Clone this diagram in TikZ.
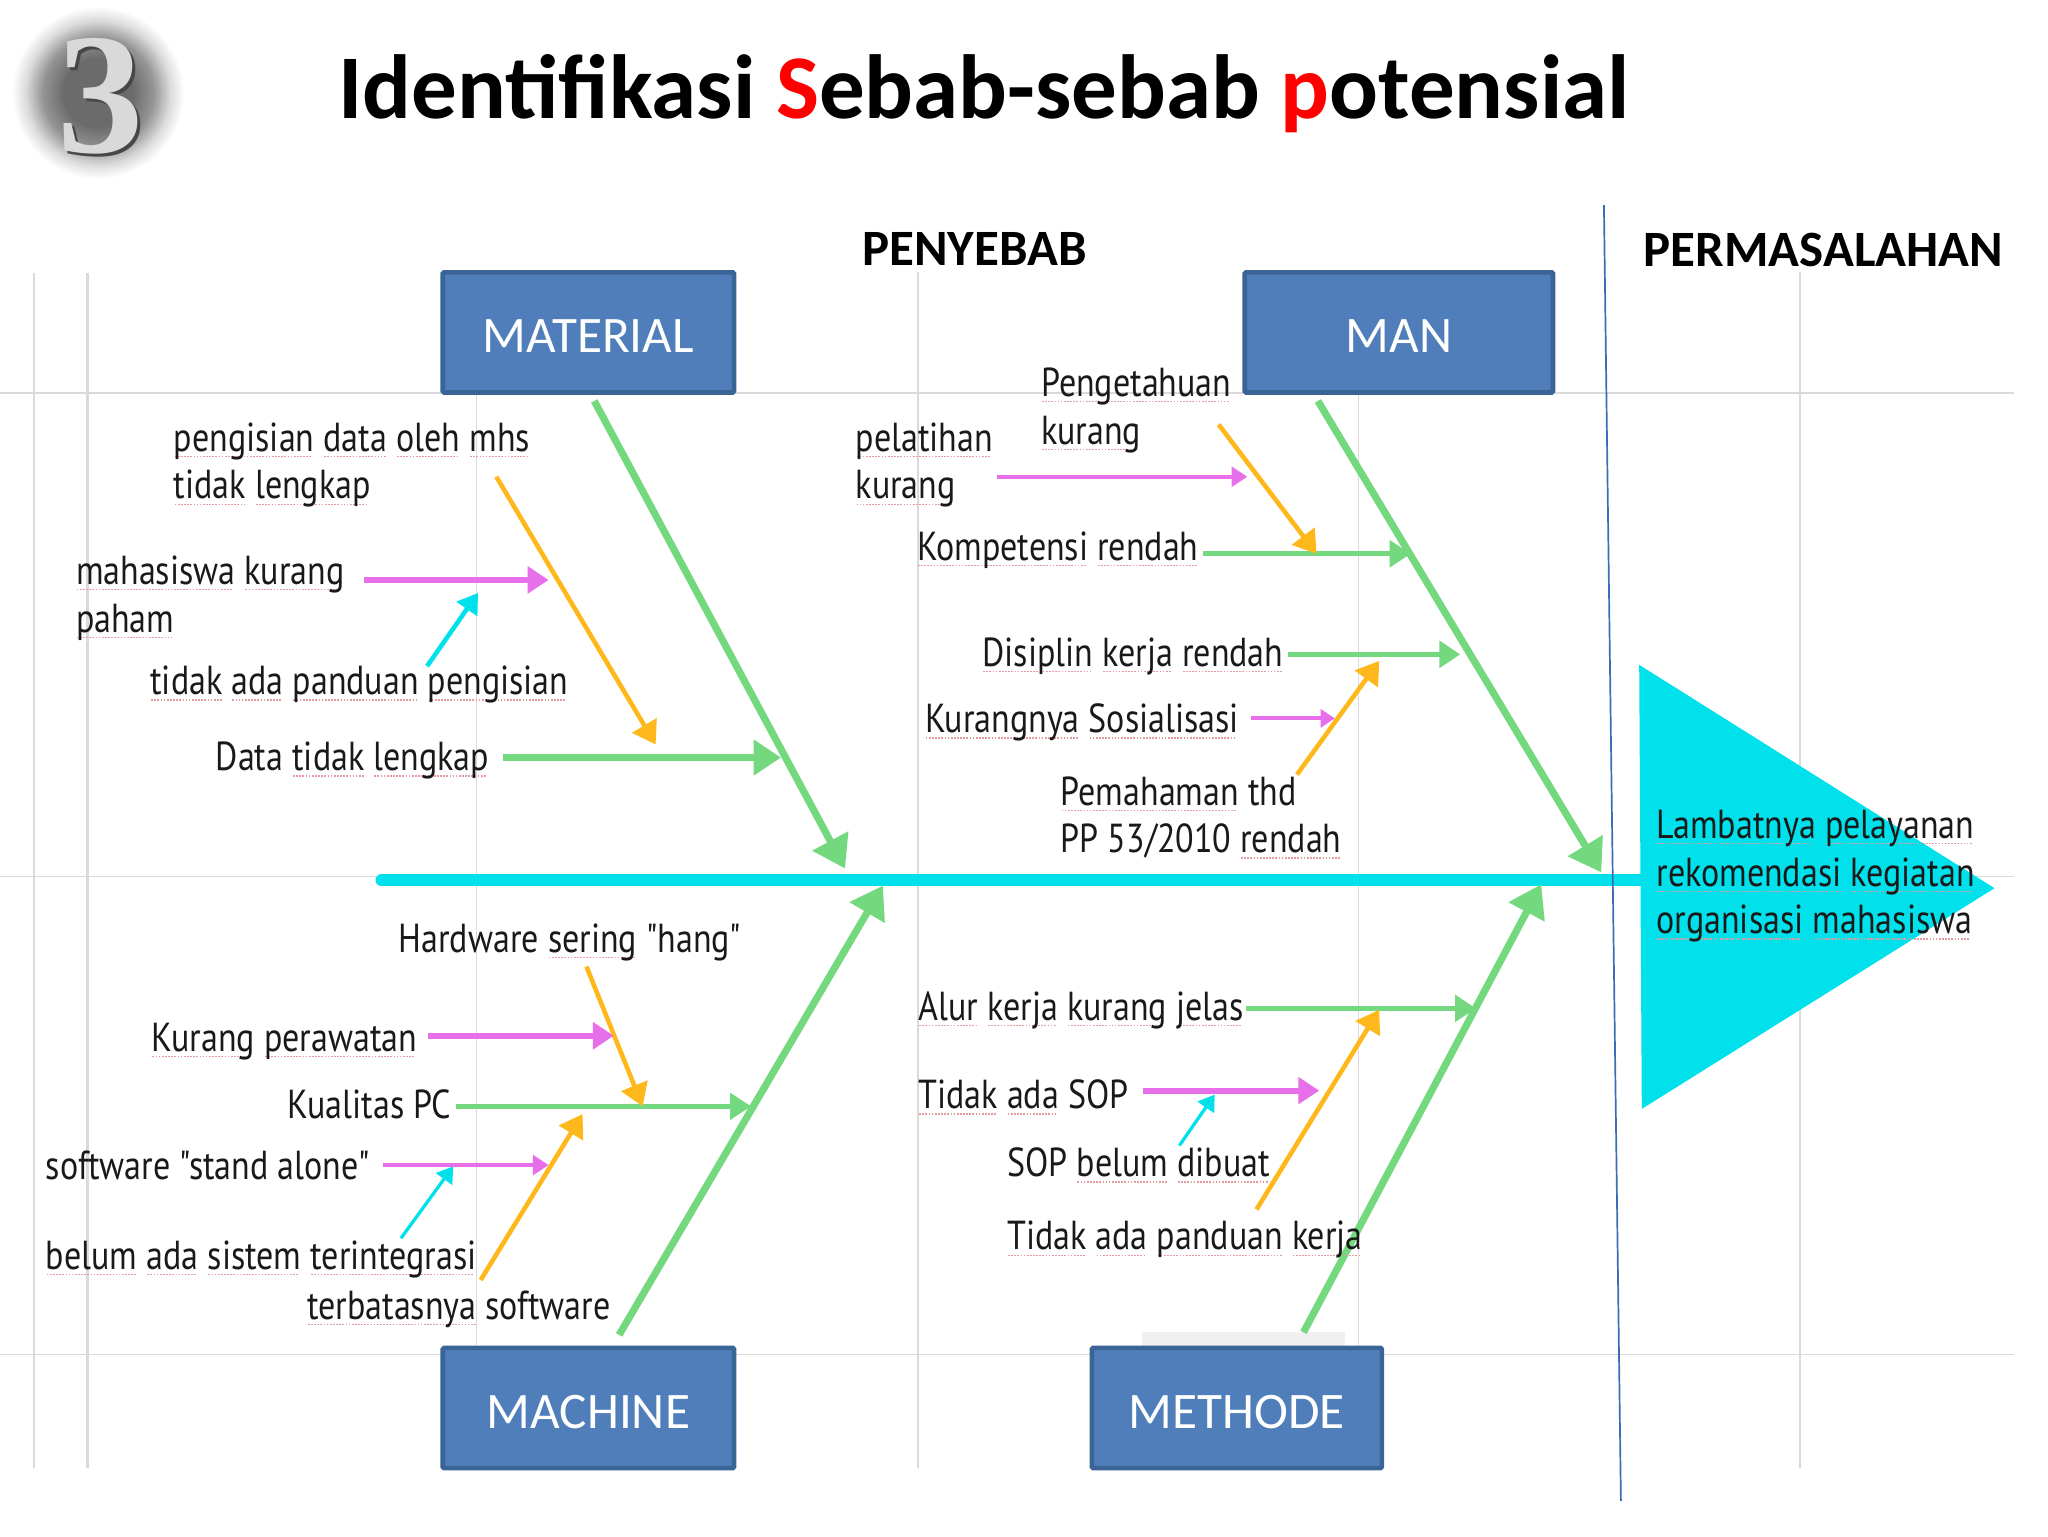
\documentclass[tikz,border=0pt]{standalone}
\usepackage{fontspec}
\usetikzlibrary{arrows.meta,shadings}
\setmainfont{Carlito}
\newfontfamily\labfont[FakeStretch=0.84]{PT Sans}
\definecolor{boxblue}{HTML}{4F7EBA}
\definecolor{boxedge}{HTML}{3A6496}
\definecolor{fishcyan}{HTML}{00E1EB}
\definecolor{bonegreen}{HTML}{74D97E}
\definecolor{boneorange}{HTML}{FFB81C}
\definecolor{bonemagenta}{HTML}{E76FEA}
\definecolor{gridgrey}{HTML}{DADADA}
\definecolor{sepblue}{HTML}{3A6DB5}
\definecolor{squig}{HTML}{E59AA0}
\pgfdeclareradialshading{logoblob}{\pgfpoint{0bp}{0bp}}{color(0bp)=(black!58); color(10bp)=(black!58); color(16bp)=(black!42); color(21bp)=(black!14); color(25bp)=(white)}
\newsavebox\sqbox
\newcommand\sq[1]{\sbox\sqbox{#1}\rlap{\raisebox{-4.5pt}{\color{squig}\hbox to \wd\sqbox{\leaders\hbox to 2.4pt{\hss\rule{1.3pt}{1pt}\hss}\hfill}}}#1}
\newcommand\boxtext[1]{\raisebox{-15.5pt}[0pt][0pt]{#1}}
\tikzset{
  catbox/.style={draw=boxedge,line width=3.5pt,fill=boxblue,text=white,font=\fontsize{39.2}{44}\selectfont,rounded corners=1pt,inner sep=0pt},
  lab/.style={anchor=base west,inner sep=0pt,align=left,yshift=-1pt,font=\labfont\fontsize{31}{36.5}\selectfont,text=black!90},
  head/.style={font=\bfseries\fontsize{39}{44}\selectfont,inner sep=0pt},
  gridline/.style={draw=gridgrey,line width=1.3pt},
  bone/.style n args={3}{draw=#1,fill=#1,line width=#2pt,-{Triangle[length=#3pt,width=#3pt*1.25]},shorten >=0pt},
}
\begin{document}
\begin{tikzpicture}[x=1pt,y=-1pt]
\useasboundingbox (0,0) rectangle (1568,1176);
% background grid
\foreach \gx/\ga/\gb/\gw in {26/209/1124/1.2,67/209/1124/2,365/302/1030/1,703/208/1124/1.2,1040/302/1124/1.2,1378/208/1124/1.2}
  \draw[gridline,line width=\gw pt] (\gx,\ga) -- (\gx,\gb);
\foreach \gy in {301,671,1037}
  \draw[gridline] (0,\gy) -- (1542,\gy);
\fill[black!6] (874,1020) rectangle (1030,1033);
% logo
\shade[shading=logoblob] (75,71) circle (66);
\node (logoshadow) at (79,76) {\fontspec{Liberation Serif}\bfseries\fontsize{132}{132}\selectfont\color{black!72}3};
\node (logo) at (77,74) {\fontspec{Liberation Serif}\bfseries\fontsize{132}{132}\selectfont\color{black!15}3};
% title
\node[inner sep=0pt,anchor=base west,font=\bfseries\fontsize{69.7}{74}\selectfont] (title) at (259,91) {Identifikasi \textcolor{red}{S}ebab-sebab \textcolor{red}{p}otensial};
\node[head] (penyebab) at (746,191) {PENYEBAB};
\node[head] (permasalahan) at (1396,191) {PERMASALAHAN};
% category boxes
\node[catbox,minimum width=223pt,minimum height=92pt] (material) at (450.5,254.5) {\boxtext{MATERIAL}};
\node[catbox,minimum width=236pt,minimum height=92pt] (man) at (1071,254.5) {\boxtext{MAN}};
\node[catbox,minimum width=223pt,minimum height=92pt] (machine) at (450.5,1078) {\boxtext{MACHINE}};
\node[catbox,minimum width=222pt,minimum height=92pt] (methode) at (947,1078) {\boxtext{METHODE}};
% spine and head
\coordinate (spineA) at (292,674);
\coordinate (spineB) at (1260,674);
\draw[fishcyan,line width=9pt,line cap=round] (spineA) -- (spineB);
\coordinate (t1) at (1255,509);
\coordinate (t2) at (1527,680);
\coordinate (t3) at (1257,849);
\fill[fishcyan] (t1) -- (t2) -- (t3) -- cycle;
% free ends
\foreach \n/\px/\py in {
 a1/455/307,a2/647/665,b1/1009/307,b2/1226/668,c1/474/1022,c2/676/678,d1/998/1020,d2/1180/677,
 e1/385/580,e2/598/580,f1/921/424,f2/1080/424,g1/986/501,g2/1118/501,h1/349/847,h2/575/847,i1/954/772,i2/1130/772,
 j1/380/365,j2/502/570,k1/933/325,k2/1008/424,l1/993/593,l2/1056/506,m1/449/740,m2/492/847,n1/368/980,n2/446/853,o1/962/926,o2/1056/773,
 p1/279/444,p2/420/444,q1/763/365,q2/955/365,r1/958/550,r2/1022/550,s1/328/793,s2/470/793,t4/293/892,t5/420/892,u1/875/835,u2/1010/835,
 v1/327/510,v2/366/454,w1/307/948,w2/347/893,y1/903/877,y2/930/838}
  \coordinate (\n) at (\px,\py);
% main bones
\draw[bone={bonegreen}{5.5}{24}] (a1) -- (a2);
\draw[bone={bonegreen}{5.5}{24}] (b1) -- (b2);
\draw[bone={bonegreen}{5.5}{24}] (c1) -- (c2);
\draw[bone={bonegreen}{5.5}{24}] (d1) -- (d2);
% green
\draw[bone={bonegreen}{5.5}{21}] (e1) -- (e2);
\draw[bone={bonegreen}{4}{16}] (f1) -- (f2);
\draw[bone={bonegreen}{4}{16}] (g1) -- (g2);
\draw[bone={bonegreen}{3.5}{16}] (h1) -- (h2);
\draw[bone={bonegreen}{4}{16}] (i1) -- (i2);
% orange
\draw[bone={boneorange}{3.5}{17}] (j1) -- (j2);
\draw[bone={boneorange}{3.5}{17}] (k1) -- (k2);
\draw[bone={boneorange}{3.5}{17}] (l1) -- (l2);
\draw[bone={boneorange}{3.5}{17}] (m1) -- (m2);
\draw[bone={boneorange}{3.5}{17}] (n1) -- (n2);
\draw[bone={boneorange}{3.5}{17}] (o1) -- (o2);
% magenta
\draw[bone={bonemagenta}{4.5}{16}] (p1) -- (p2);
\draw[bone={bonemagenta}{3}{12}] (q1) -- (q2);
\draw[bone={bonemagenta}{3}{11}] (r1) -- (r2);
\draw[bone={bonemagenta}{4.5}{16}] (s1) -- (s2);
\draw[bone={bonemagenta}{3}{12}] (t4) -- (t5);
\draw[bone={bonemagenta}{4.5}{16}] (u1) -- (u2);
% cyan
\draw[bone={fishcyan}{3.5}{15}] (v1) -- (v2);
\draw[bone={fishcyan}{2.5}{12}] (w1) -- (w2);
\draw[bone={fishcyan}{2.5}{12}] (y1) -- (y2);
% separator
\coordinate (sep1) at (1228,157);
\coordinate (sep2) at (1241,1149);
\draw[sepblue,line width=1.3pt] (sep1) -- (sep2);
% labels
\node[lab] (l01) at (133,381) {\sq{pengisian} \sq{data} \sq{oleh} \sq{mhs}\\\sq{tidak} \sq{lengkap}};
\node[lab] (l02) at (58,483) {\sq{mahasiswa} \sq{kurang}\\\sq{paham}};
\node[lab] (l03) at (115,531) {\sq{tidak} \sq{ada} \sq{panduan} \sq{pengisian}};
\node[lab] (l04) at (165,589) {Data \sq{tidak} \sq{lengkap}};
\node[lab] (l05) at (655,381) {\sq{pelatihan}\\\sq{kurang}};
\node[lab] (l06) at (797,339) {\sq{Pengetahuan}\\\sq{kurang}};
\node[lab] (l07) at (702,428) {\sq{Kompetensi} \sq{rendah}};
\node[lab] (l08) at (752,509) {\sq{Disiplin} \sq{kerja} \sq{rendah}};
\node[lab] (l09) at (708,560) {\sq{Kurangnya} \sq{Sosialisasi}};
\node[lab] (l10) at (812,652) {\sq{Pemahaman} thd\\PP 53/2010 \sq{rendah}};
\node[lab] (l11) at (1268,714) {\sq{Lambatnya} \sq{pelayanan}\\\sq{rekomendasi} \sq{kegiatan}\\\sq{organisasi} \sq{mahasiswa}};
\node[lab] (l12) at (305,728) {Hardware \sq{sering} "hang"};
\node[lab] (l13) at (116,804) {\sq{Kurang} \sq{perawatan}};
\node[lab] (l14) at (220,855) {Kualitas PC};
\node[lab] (l15) at (35,902) {software "stand alone"};
\node[lab] (l16) at (35,971) {\sq{belum} \sq{ada} \sq{sistem} \sq{terintegrasi}};
\node[lab] (l17) at (235,1009) {\sq{terbatasnya} software};
\node[lab] (l18) at (703,780) {\sq{Alur} \sq{kerja} \sq{kurang} \sq{jelas}};
\node[lab] (l19) at (703,848) {\sq{Tidak} \sq{ada} SOP};
\node[lab] (l20) at (771,900) {SOP \sq{belum} \sq{dibuat}};
\node[lab] (l21) at (771,956) {\sq{Tidak} \sq{ada} \sq{panduan} \sq{kerja}};
\end{tikzpicture}
\end{document}
